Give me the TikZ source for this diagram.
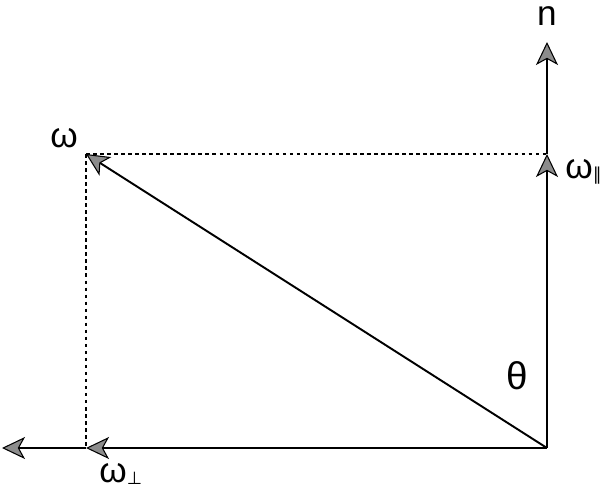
\documentclass[tikz,border=0pt]{standalone}
\usepackage{fontspec}
\setmainfont{Liberation Sans}
\newfontfamily\symfont{DejaVu Sans}
\usepackage{tikz}
\usetikzlibrary{positioning,calc,arrows.meta}
\definecolor{VecHead}{HTML}{8C8C8C}

\tikzset{
  vec/.style={line width=1.1pt,-{Stealth[length=0.46cm,width=0.44cm,inset=0.12cm,fill=VecHead,line width=0.6pt]}},
  proj/.style={line width=0.7pt,dash pattern=on 2pt off 2pt},
  lbl/.style={inner sep=0pt,font=\fontsize{20}{22}\selectfont}
}
\newcommand{\lowsub}[1]{\raisebox{-1.5pt}{\symfont\fontsize{10}{11}\selectfont #1}}

\begin{document}
\begin{tikzpicture}[x=0.02cm,y=-0.02cm]
        \useasboundingbox (0,0) rectangle (600,495);

        % Points
        \coordinate (O) at (547,448);
        \coordinate (w) at (86,154);
        \coordinate (wpar) at (547,154);
        \coordinate (wperp) at (86,448);
        \coordinate (n) at (547,42);
        \coordinate (left) at (2,448);

        % Projections
        \draw[proj] (w) -- (wpar);
        \draw[proj] (w) -- (wperp);

        % Axes and components
        \draw[vec] (O) -- (wpar);
        \draw[vec] (wpar) -- (n);
        \draw[vec] (O) -- (wperp);
        \draw[vec] (wperp) -- (left);

        % Vector
        \draw[vec] (O) -- (w);

        % Labels
        \node[lbl,anchor=base] (nlbl) at (547,25) {n};
        \node[lbl,anchor=base] (wlbl) at (64,147) {ω};
        \node[lbl,anchor=base west] (wparlbl) at (565,178) {ω\lowsub{∥}};
        \node[lbl,anchor=base west] (wperplbl) at (99,482) {ω\lowsub{⊥}};
        \node[lbl,anchor=base,font=\fontsize{22}{24}\selectfont] (thlbl) at (517,389) {θ};
      \end{tikzpicture}
\end{document}
